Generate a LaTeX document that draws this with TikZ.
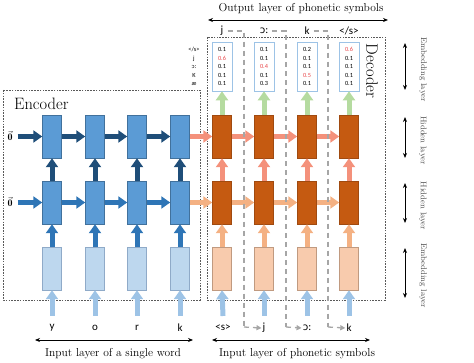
\documentclass[tikz,border=0pt]{standalone}
\usepackage{fontspec}
\newfontfamily\sansf{Carlito}
\newfontfamily\ipaf{DejaVu Sans}
\usetikzlibrary{arrows.meta}
\definecolor{encH}{HTML}{5B9BD5}
\definecolor{encHb}{HTML}{41719C}
\definecolor{encE}{HTML}{BDD7EE}
\definecolor{encEb}{HTML}{8FAAC8}
\definecolor{decH}{HTML}{C55A11}
\definecolor{decHb}{HTML}{A04A10}
\definecolor{decE}{HTML}{F8CBAD}
\definecolor{decEb}{HTML}{C09A80}
\definecolor{navy}{HTML}{1F4E79}
\definecolor{midblue}{HTML}{2E75B6}
\definecolor{inblue}{HTML}{9DC3E6}
\definecolor{salmon}{HTML}{F4917B}
\definecolor{lorange}{HTML}{F4B183}
\definecolor{lgreen}{HTML}{B5DBA0}
\definecolor{probred}{HTML}{E8474A}
\definecolor{fbgray}{HTML}{A6A6A6}
\begin{document}
\begin{tikzpicture}[x=1pt,y=-1pt,
  blk/.style={minimum width=19pt,minimum height=43pt,inner sep=0pt,line width=0.5pt},
  eh/.style={blk,fill=encH,draw=encHb},
  ee/.style={blk,fill=encE,draw=encEb},
  dh/.style={blk,fill=decH,draw=decHb},
  de/.style={blk,fill=decE,draw=decEb},
  fat/.style={line width=5pt,-{Triangle[width=12pt,length=9pt]}},
  prob/.style={draw=inblue,line width=0.6pt,minimum width=20pt,minimum height=49pt,inner sep=0pt,align=center,font=\sansf\fontsize{6.3}{8.5}\selectfont},
  lbl/.style={font=\sansf\fontsize{11}{12}\selectfont,inner sep=1pt},
  fb/.style={draw=fbgray,line width=1.3pt,dash pattern=on 5pt off 4pt},
  fbtip/.style={fb,-{Triangle[width=5pt,length=5pt]}},
  span/.style={line width=0.8pt,{Stealth[length=5pt,width=4pt]}-{Stealth[length=5pt,width=4pt]}},
  side/.style={font=\fontsize{8.2}{9}\selectfont,text=black!70,rotate=-90,inner sep=0pt},
  title/.style={font=\fontsize{11.5}{13}\selectfont,inner sep=0pt},
  frame/.style={draw=black!65,line width=0.7pt,dash pattern=on 1.6pt off 1.2pt}
]
\useasboundingbox (0,0) rectangle (474,363);

% frames
\draw[frame] (3,90) rectangle (200,300);
\draw[frame] (207,37) rectangle (385,300);
\node[anchor=west,font=\fontsize{16.5}{18}\selectfont,inner sep=0pt] (enc) at (14,104) {Encoder};
\node[rotate=-90,font=\fontsize{16.5}{18}\selectfont,inner sep=0pt] (dec) at (372,71) {Decoder};

% encoder blocks
\foreach \i/\x in {1/52,2/95,3/137,4/180}{
  \node[eh] (et\i) at (\x,136.5) {};
  \node[eh] (eb\i) at (\x,202.5) {};
  \node[ee] (ee\i) at (\x,268.5) {};
}
% decoder blocks
\foreach \i/\x in {1/222,2/264,3/307,4/349}{
  \node[dh] (dt\i) at (\x,136.5) {};
  \node[dh] (db\i) at (\x,202.5) {};
  \node[de] (de\i) at (\x,268.5) {};
}

% zero vectors
\node[font=\fontsize{10}{12}\selectfont,inner sep=0pt] (z1) at (10,136) {$\vec{\mathbf{0}}$};
\node[font=\fontsize{10}{12}\selectfont,inner sep=0pt] (z2) at (10,202) {$\vec{\mathbf{0}}$};
\draw[fat,navy] ([xshift=5pt]z1.east|-et1.west) -- (et1.west);
\draw[fat,midblue] ([xshift=5pt]z2.east|-eb1.west) -- (eb1.west);

% encoder arrows
\foreach \i/\j in {1/2,2/3,3/4}{
  \draw[fat,navy] (et\i.east) -- (et\j.west);
  \draw[fat,midblue] (eb\i.east) -- (eb\j.west);
}
\foreach \i in {1,2,3,4}{
  \draw[fat,navy] (eb\i.north) -- (et\i.south);
  \draw[fat,midblue] (ee\i.north) -- (eb\i.south);
}
% encoder to decoder
\draw[fat,salmon] (et4.east) -- (dt1.west);
\draw[fat,lorange] (eb4.east) -- (db1.west);
% decoder arrows
\foreach \i/\j in {1/2,2/3,3/4}{
  \draw[fat,salmon] (dt\i.east) -- (dt\j.west);
  \draw[fat,lorange] (db\i.east) -- (db\j.west);
}
\foreach \i in {1,2,3,4}{
  \draw[fat,salmon] (db\i.north) -- (dt\i.south);
  \draw[fat,lorange] (de\i.north) -- (db\i.south);
}

% probability boxes
\node[prob] (p1) at (222,66.5) {0.1\\\textcolor{probred}{0.6}\\0.1\\0.1\\0.1};
\node[prob] (p2) at (264,66.5) {0.1\\0.1\\\textcolor{probred}{0.4}\\0.1\\0.3};
\node[prob] (p3) at (307,66.5) {0.2\\0.1\\0.1\\\textcolor{probred}{0.5}\\0.1};
\node[prob] (p4) at (349,66.5) {\textcolor{probred}{0.6}\\0.1\\0.1\\0.1\\0.1};
\node[align=center,font=\sansf\fontsize{6.3}{8.5}\selectfont,inner sep=0pt] (plab) at (194,66.5) {</s>\\j\\{\ipaf\fontsize{5.5}{8.5}\selectfont ɔ}:\\K\\æ};
\foreach \i in {1,2,3,4}{
  \draw[fat,lgreen] (dt\i.north) -- (p\i.south);
}

% encoder input labels
\foreach \i/\x/\t in {1/52/y,2/95/o,3/137/r,4/180/k}{
  \node[lbl] (w\i) at (\x,328) {\t};
  \coordinate (wa\i) at (\x,316);
  \draw[fat,inblue] (wa\i) -- (ee\i.south);
}
% decoder input labels
\node[lbl] (i1) at (223,328) {<s>};
\node[lbl] (i2) at (264,328) {j};
\node[lbl] (i3) at (307,328) {{\ipaf\fontsize{10}{12}\selectfont ɔ}:};
\node[lbl] (i4) at (349,328) {k};
\foreach \i/\x in {1/223,2/264,3/307,4/349}{
  \coordinate (ia\i) at (\x,316);
  \draw[fat,inblue] (ia\i) -- (de\i.south);
}
% output labels
\node[lbl] (o1) at (222,31) {j};
\node[lbl] (o2) at (264,31) {{\ipaf\fontsize{10}{12}\selectfont ɔ}:};
\node[lbl] (o3) at (307,31) {k};
\node[lbl] (o4) at (349,31) {</s>};

% feedback dashed lines
\foreach \i/\j/\x in {1/2/244,2/3/286,3/4/328}{
  \coordinate (ft\i) at (\x,31);
  \coordinate (fbm\i) at (\x,327);
  \draw[fb] ([xshift=3pt]o\i.east) -- (ft\i) -- (fbm\i);
  \draw[fbtip] (fbm\i) -- (i\j.west);
}

% titles with spans
\node[title] (top) at (301,9) {Output layer of phonetic symbols};
\coordinate (ta) at (208,20); \coordinate (tb) at (388,20);
\draw[span] (ta) -- (tb);
\coordinate (la) at (35,340); \coordinate (lb) at (193,340);
\draw[span] (la) -- (lb);
\node[title] (bl) at (113,354) {Input layer of a single word};
\coordinate (ra) at (212,340); \coordinate (rb) at (370,340);
\draw[span] (ra) -- (rb);
\node[title] (br) at (297,354) {Input layer of phonetic symbols};

% side labels
\foreach \n/\a/\b/\t in {1/43/90/Embedding layer,2/117/158/Hidden layer,3/183/223/Hidden layer,4/248/298/Embedding layer}{
  \coordinate (sa\n) at (405,\a); \coordinate (sb\n) at (405,\b);
  \draw[span] (sa\n) -- (sb\n);
  \node[side] (st\n) at (423,{(\a+\b)/2+3}) {\t};
}
\end{tikzpicture}
\end{document}
